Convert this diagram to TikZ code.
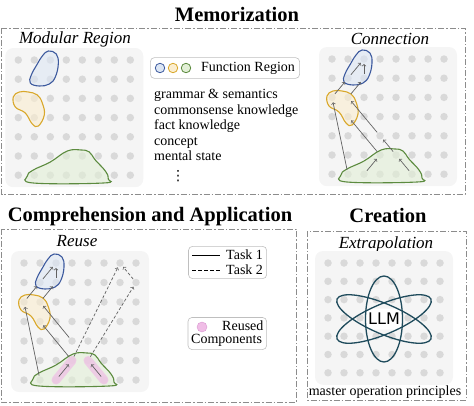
\documentclass[tikz,border=0pt]{standalone}
\usepackage{amsmath}
\usepackage{fontspec}
\setmainfont{Liberation Serif}
\newfontfamily\llmfont{DejaVu Sans}
\usepackage{tikz}
\usetikzlibrary{shapes,arrows}
\usetikzlibrary{positioning,fit}
\definecolor{bluel}{HTML}{3D5A9E}
\definecolor{bluef}{HTML}{DCE6F4}
\definecolor{yell}{HTML}{D9A82B}
\definecolor{yelf}{HTML}{FBEED0}
\definecolor{grnl}{HTML}{5C8B3F}
\definecolor{grnf}{HTML}{E2EFD6}
\definecolor{pinkc}{HTML}{F0BDE6}
\definecolor{orbitc}{HTML}{1F4B5C}
\definecolor{dotc}{HTML}{D9D9D9}
\definecolor{bgc}{HTML}{F5F5F5}
\tikzstyle{panelframe} = [draw=black!45, line width=0.6pt, dash pattern=on 6pt off 2pt on 1.5pt off 2pt]
\tikzstyle{gridbg} = [fill=bgc, rounded corners=8pt]
\tikzstyle{gdot} = [circle, fill=dotc, minimum size=7.5pt, inner sep=0pt]
\tikzstyle{bblob} = [draw=bluel, fill=bluef, fill opacity=0.6, line width=1.1pt]
\tikzstyle{yblob} = [draw=yell, fill=yelf, fill opacity=0.6, line width=1.1pt]
\tikzstyle{gblob} = [draw=grnl, fill=grnf, fill opacity=0.6, line width=1.1pt]
\tikzstyle{conn} = [-to, draw=black!62, line width=0.7pt, shorten >=1pt, shorten <=0.5pt]
\tikzstyle{task2} = [conn, dash pattern=on 3pt off 2pt]
\tikzstyle{reuse} = [draw=pinkc, line width=9pt, line cap=round, opacity=0.7]
\tikzstyle{orbit} = [draw=orbitc, line width=1.3pt]
\tikzstyle{head} = [font=\bfseries\fontsize{20.5}{24}\selectfont, inner sep=0pt]
\tikzstyle{sub} = [font=\itshape\fontsize{17}{20}\selectfont, inner sep=0pt]
\tikzstyle{txt} = [font=\fontsize{14}{15.5}\selectfont, inner sep=0pt]
\tikzstyle{legbox} = [draw=black!25, rounded corners=4pt, line width=0.6pt]
\tikzstyle{regdot} = [circle, minimum size=9.5pt, inner sep=0pt, line width=0.8pt]

\newcommand{\dotgrid}[2]{%
  \fill[gridbg] (-13,-12) rectangle (125,{6*#2+12});
  \foreach \ci in {0,...,7}
    \foreach \ri in {0,...,6}
      \node[gdot] (#1-\ci-\ri) at ({16*\ci},{#2*\ri}) {};
}
\newcommand{\regions}{%
  \draw[bblob] plot[smooth cycle, tension=0.7] coordinates {(30,-9) (38,-6) (40,4) (37,17) (31,24) (21,26) (12,23) (13,15) (19,4) (24,-4)};
  \draw[yblob] plot[smooth cycle, tension=0.7] coordinates {(-5,37) (1,32) (10,32) (19,35) (24,43) (26,55) (20,66) (14,64) (7,53) (-3,47)};
  \draw[gblob] plot[smooth cycle, tension=0.7] coordinates {(9,116) (15,110) (32,102) (49,91) (63,90) (71,92) (77,100) (87,111) (90,119) (85,123) (15,123)};
}

\begin{document}
\begin{tikzpicture}[x=1pt, y=-1pt]
  \useasboundingbox (0,0) rectangle (474,405);

  \draw[panelframe] (1.5,28) rectangle (465,194);
  \draw[panelframe] (1.5,229) rectangle (296,402);
  \draw[panelframe] (307,231) rectangle (466,400);

  \node[head] (tm) at (237,14) {Memorization};
  \node[head] (tc) at (150,216.5) {Comprehension and Application};
  \node[head] (tr) at (388,215.5) {Creation};

  \node[sub] (s1) at (75,39.5) {Modular Region};
  \node[sub] (s2) at (390,38.8) {Connection};
  \node[sub] (s3) at (77,241) {Reuse};
  \node[sub] (s4) at (386,244) {Extrapolation};

  % modular region
  \begin{scope}[shift={(18.3,60)}]
    \dotgrid{m}{19.2}
    \regions
  \end{scope}

  % connection
  \begin{scope}[shift={(332,59)}]
    \dotgrid{c}{19.2}
    \regions
  \end{scope}
  \draw[conn] (c-1-1) -- (c-2-0);
  \draw[conn] (c-2-1) -- (c-2-0);
  \draw[conn] (c-0-2) -- (c-1-1);
  \draw[conn] (c-1-2) -- (c-2-1);
  \draw[conn] (c-1-6) -- (c-0-2);
  \draw[conn] (c-3-4) -- (c-1-2);
  \draw[conn] (c-3-5) -- (c-1-3);
  \draw[conn] (c-4-5) -- (c-3-4);
  \draw[conn] (c-2-6) -- (c-3-5);
  \draw[conn] (c-5-6) -- (c-4-5);

  % reuse
  \begin{scope}[shift={(24,263)}]
    \dotgrid{r}{19.5}
    \regions
  \end{scope}
  \draw[reuse] (r-2-6.center) -- (r-3-5.center);
  \draw[reuse] (r-5-6.center) -- (r-4-5.center);
  \draw[conn] (r-1-1) -- (r-2-0);
  \draw[conn] (r-2-1) -- (r-2-0);
  \draw[conn] (r-0-2) -- (r-1-1);
  \draw[conn] (r-1-2) -- (r-2-1);
  \draw[conn] (r-1-6) -- (r-0-2);
  \draw[conn] (r-3-4) -- (r-1-2);
  \draw[conn] (r-3-5) -- (r-1-3);
  \draw[conn] (r-2-6) -- (r-3-5);
  \draw[conn] (r-5-6) -- (r-4-5);
  \draw[task2] (r-3-5) -- (r-6-0);
  \draw[task2] (r-4-5) -- (r-7-1);
  \draw[task2] (r-7-1) -- (r-6-0);

  % extrapolation
  \begin{scope}[shift={(328,263)}]
    \dotgrid{e}{18.3}
    \coordinate (atom) at (56,56);
  \end{scope}
  \node[fill=white, rounded corners=3pt, minimum width=35pt, minimum height=21pt, inner sep=0pt,
        font=\llmfont\fontsize{16}{18}\selectfont] (llm) at (atom) {LLM};
  \draw[orbit] (atom) ellipse [x radius=18.5, y radius=43];
  \draw[orbit, rotate around={23:(atom)}] (atom) ellipse [x radius=51, y radius=15];
  \draw[orbit, rotate around={-23:(atom)}] (atom) ellipse [x radius=51, y radius=15];
  \node[txt] (mop) at (385,392) {master operation principles};

  % legend function region
  \node[regdot, draw=bluel, fill=bluef] (lb) at (160,68) {};
  \node[regdot, draw=yell, fill=yelf] (ly) at (173,68) {};
  \node[regdot, draw=grnl, fill=grnf] (lg) at (186,68) {};
  \node[txt, anchor=west] (frt) at (201,68) {Function Region};
  \node[legbox, fit=(lb)(frt), inner xsep=4.5pt, inner ysep=4pt] (frbox) {};

  \node[txt, anchor=north west, align=left] (lst) at (154,89)
    {grammar \& semantics\\commonsense knowledge\\fact knowledge\\concept\\mental state};
  \node[txt, font=\llmfont\fontsize{14}{16}\selectfont] (vd) at (178,176) {⋮};

  % legend tasks
  \coordinate (t1a) at (192,255);
  \coordinate (t1b) at (220,255);
  \coordinate (t2a) at (192,270);
  \coordinate (t2b) at (220,270);
  \draw[black, line width=0.9pt] (t1a) -- (t1b);
  \draw[black, line width=0.9pt, dash pattern=on 3.5pt off 2.5pt] (t2a) -- (t2b);
  \node[txt, anchor=west] (t1) at (226,255) {Task 1};
  \node[txt, anchor=west] (t2) at (226,270) {Task 2};
  \node[legbox, fit=(t1a)(t1)(t2), inner xsep=3.5pt, inner ysep=3.5pt] (tbox) {};

  % legend reused
  \node[circle, fill=pinkc, draw=pinkc!80!violet, line width=0.4pt, minimum size=10pt, inner sep=0pt] (pc) at (202,327) {};
  \node[txt, font=\fontsize{14}{13}\selectfont, anchor=west, align=left] (ru) at (191,333.5)
    {\hspace{31pt}Reused\\Components};
  \node[legbox, fit=(pc)(ru), inner xsep=3pt, inner ysep=3pt] (rbox) {};
\end{tikzpicture}
\end{document}
